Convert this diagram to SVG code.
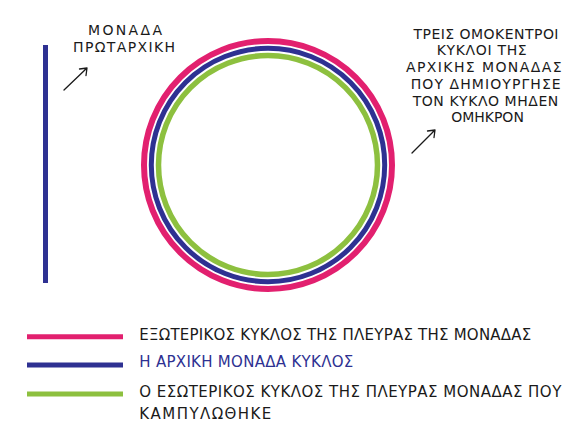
<svg xmlns="http://www.w3.org/2000/svg" width="581" height="443" viewBox="0 0 581 443">
<style>
  .t { font-family: "DejaVu Sans", "Liberation Sans", sans-serif; font-size: 14px; fill: #1a1a1a; }
  .lg { font-family: "DejaVu Sans", "Liberation Sans", sans-serif; font-size: 15px; fill: #1a1a1a; }
  .ring { fill: none; }
  .arrow { stroke: #1a1a1a; stroke-width: 1.3; fill: none; stroke-linecap: round; stroke-linejoin: round; }
</style>
<rect width="581" height="443" fill="#ffffff"/>
<g id="bar">
  <rect x="43" y="45" width="5" height="238" fill="#2e3192"/>
</g>
<g id="label-monada">
  <text class="t" x="88" y="35" textLength="74" lengthAdjust="spacing">ΜΟΝΑΔΑ</text>
  <text class="t" x="73" y="51.5" textLength="102" lengthAdjust="spacing">ΠΡΩΤΑΡΧΙΚΗ</text>
</g>
<g id="circles">
  <circle class="ring" cx="268" cy="165" r="124" stroke="#e2206f" stroke-width="6"/>
  <circle class="ring" cx="268" cy="165" r="116.7" stroke="#2e3192" stroke-width="5"/>
  <circle class="ring" cx="268" cy="165" r="109.5" stroke="#8dc03f" stroke-width="5.5"/>
</g>
<g id="label-circles">
  <text class="t" x="413.5" y="39" textLength="145" lengthAdjust="spacing">ΤΡΕΙΣ ΟΜΟΚΕΝΤΡΟΙ</text>
  <text class="t" x="436.7" y="54.5" textLength="90" lengthAdjust="spacing">ΚΥΚΛΟΙ ΤΗΣ</text>
  <text class="t" x="406" y="71.7" textLength="155.5" lengthAdjust="spacing">ΑΡΧΙΚΗΣ ΜΟΝΑΔΑΣ</text>
  <text class="t" x="410.7" y="89" textLength="150" lengthAdjust="spacing">ΠΟΥ ΔΗΜΙΟΥΡΓΗΣΕ</text>
  <text class="t" x="412.7" y="105.7" textLength="145.6" lengthAdjust="spacing">ΤΟΝ ΚΥΚΛΟ ΜΗΔΕΝ</text>
  <text class="t" x="487.5" y="122.3" text-anchor="middle">ΟΜΗΚΡΟΝ</text>
</g>
<g id="connectors">
  <path class="arrow" d="M64 90 L87 68 M79.5 69 L87 68 L86 75.5"/>
  <path class="arrow" d="M412 153 L435 130 M427.5 131 L435 130 L434 137.5"/>
</g>
<g id="legend">
  <g id="legend-outer">
    <line x1="27" y1="336.7" x2="123" y2="336.7" stroke="#e2206f" stroke-width="5"/>
    <text class="lg" x="139.3" y="340" textLength="392" lengthAdjust="spacing">ΕΞΩΤΕΡΙΚΟΣ ΚΥΚΛΟΣ ΤΗΣ ΠΛΕΥΡΑΣ ΤΗΣ ΜΟΝΑΔΑΣ</text>
  </g>
  <g id="legend-initial">
    <line x1="27" y1="365" x2="123" y2="365" stroke="#2e3192" stroke-width="5"/>
    <text class="lg" x="139.3" y="367.3" textLength="214" lengthAdjust="spacing" style="fill:#2e3192">Η ΑΡΧΙΚΗ ΜΟΝΑΔΑ ΚΥΚΛΟΣ</text>
  </g>
  <g id="legend-inner">
    <line x1="27" y1="394" x2="123" y2="394" stroke="#8dc03f" stroke-width="5"/>
    <text class="lg" x="139.3" y="396.7" textLength="422" lengthAdjust="spacing">Ο ΕΣΩΤΕΡΙΚΟΣ ΚΥΚΛΟΣ ΤΗΣ ΠΛΕΥΡΑΣ ΜΟΝΑΔΑΣ ΠΟΥ</text>
    <text class="lg" x="139.3" y="419.3" textLength="132" lengthAdjust="spacing">ΚΑΜΠΥΛΩΘΗΚΕ</text>
  </g>
</g>
</svg>
